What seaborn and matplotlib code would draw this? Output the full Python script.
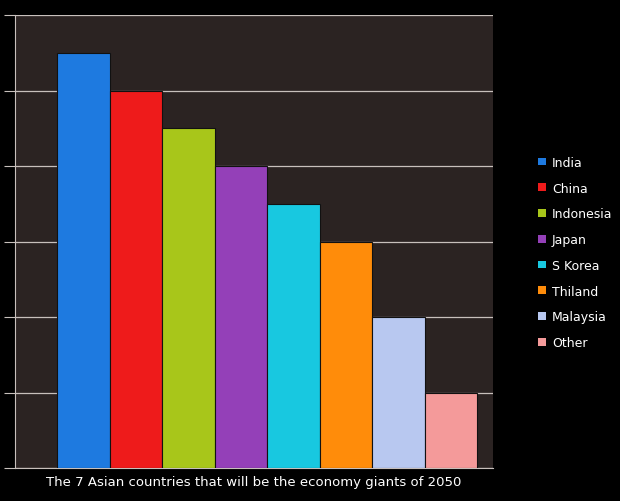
import matplotlib.pyplot as plt
import seaborn as sns
import pandas as pd
from matplotlib.patches import Patch

countries = ["India", "China", "Indonesia", "Japan", "S Korea", "Thiland", "Malaysia", "Other"]
values = [5.5, 5.0, 4.5, 4.0, 3.5, 3.0, 2.0, 1.0]
colors = ["#1e7ae0", "#ee1b1b", "#a8c61a", "#9440b8", "#18c8e0", "#ff8c0a", "#b8c8f0", "#f49a9a"]
tick_labels = ["0%", "1%", "2%", "3%", "4%", "5%", "6%"]

sns.set_style("dark")
fig = plt.figure(figsize=(6.2, 5.02), dpi=100, facecolor="black")
ax = fig.add_axes([15 / 620, 33 / 502, 478 / 620, 453 / 502])
ax.set_facecolor("#2b2322")

df = pd.DataFrame({"country": countries, "value": values})
sns.barplot(data=df, x="country", y="value", hue="country", palette=colors, saturation=1,
            width=1.0, legend=False, ax=ax, edgecolor="#111111", linewidth=0.8, zorder=3)

ax.set_xlim(-1.3, 7.8)
ax.set_ylim(0, 6)
ax.set_yticks(range(7))
ax.set_yticklabels(tick_labels, color="white")
ax.yaxis.grid(True, color="#c8c0bc", linewidth=0.9, zorder=0)
ax.xaxis.grid(False)
ax.set_xticks([])
ax.set_xlabel("The 7 Asian countries that will be the economy giants of 2050",
              color="white", fontsize=9.5, labelpad=5)
ax.set_ylabel("")
for s in ["top", "right"]:
    ax.spines[s].set_visible(False)
for s in ["left", "bottom"]:
    ax.spines[s].set_color("#c8c0bc")
    ax.spines[s].set_visible(True)
ax.tick_params(axis="y", length=8, color="#c8c0bc", left=True)

handles = [Patch(facecolor=c, edgecolor="none", label=n) for c, n in zip(colors, countries)]
leg = fig.legend(handles=handles, loc="center left", bbox_to_anchor=(527 / 620, 0.495),
                 frameon=False, fontsize=9, labelcolor="white",
                 handlelength=0.6, handleheight=0.6, labelspacing=1.02, handletextpad=0.5)

fig.savefig("out.png", dpi=100, facecolor="black")
